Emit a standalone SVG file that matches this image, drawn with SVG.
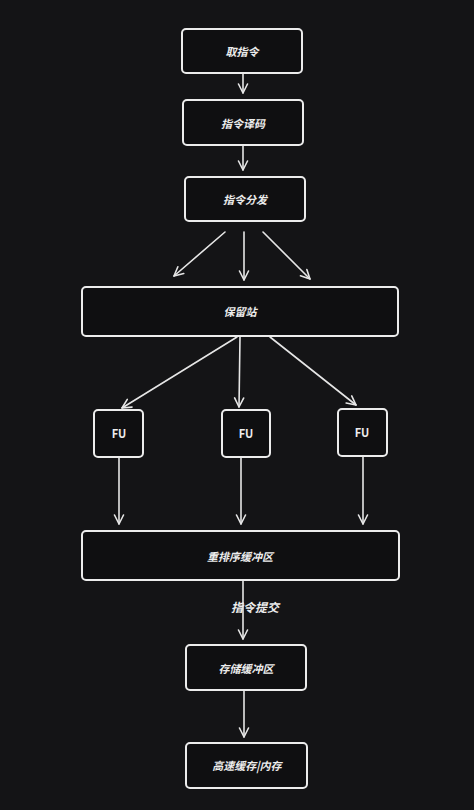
<svg xmlns="http://www.w3.org/2000/svg" width="474" height="810" viewBox="0 0 474 810">
<defs>
<marker id="ah" viewBox="0 0 12 12" refX="11" refY="6" markerWidth="12" markerHeight="12" markerUnits="userSpaceOnUse" orient="auto">
<path d="M2,1.5 L11,6 L2,10.5" fill="none" stroke="#e6e6e6" stroke-width="1.6" stroke-linecap="round" stroke-linejoin="round"/>
</marker>
<style>
.bx{fill:#0f0f11;stroke:#ececec;stroke-width:2;}
.t{fill:#ececec;font-family:"Noto Sans CJK SC","Liberation Sans",sans-serif;font-size:11px;font-style:italic;font-weight:bold;text-anchor:middle;dominant-baseline:central;}
.c{fill:none;stroke:#e6e6e6;stroke-width:1.6;stroke-linecap:round;marker-end:url(#ah);}
</style>
</defs>
<rect width="474" height="810" fill="#141416"/>
<g id="connectors">
<line class="c" x1="243" y1="74" x2="243" y2="93"/>
<line class="c" x1="243" y1="146" x2="243" y2="170"/>
<line class="c" x1="225" y1="232" x2="174" y2="276"/>
<line class="c" x1="244" y1="232" x2="244" y2="280"/>
<line class="c" x1="263" y1="232" x2="310" y2="279"/>
<line class="c" x1="237" y1="337" x2="122" y2="408"/>
<line class="c" x1="240" y1="337" x2="239" y2="407"/>
<line class="c" x1="270" y1="337" x2="356" y2="405"/>
<line class="c" x1="119" y1="458" x2="119" y2="524"/>
<line class="c" x1="241" y1="458" x2="241" y2="524"/>
<line class="c" x1="363" y1="457" x2="363" y2="524"/>
<line class="c" x1="243" y1="581" x2="243" y2="639"/>
<line class="c" x1="244" y1="691" x2="244" y2="737"/>
<text class="t" x="255" y="606" style="font-size:12px">指令提交</text>
</g>
<g id="n1"><rect class="bx" x="182" y="29" width="120" height="44" rx="4"/><text class="t" x="242" y="51">取指令</text></g>
<g id="n2"><rect class="bx" x="183" y="100" width="120" height="45" rx="4"/><text class="t" x="243" y="123">指令译码</text></g>
<g id="n3"><rect class="bx" x="185" y="177" width="120" height="44" rx="4"/><text class="t" x="245" y="199">指令分发</text></g>
<g id="n4"><rect class="bx" x="82" y="287" width="316" height="49" rx="4"/><text class="t" x="240" y="311">保留站</text></g>
<g id="fu1"><rect class="bx" x="94" y="410" width="49" height="47" rx="4"/><text class="t" x="119" y="433" style="font-style:normal">FU</text></g>
<g id="fu2"><rect class="bx" x="222" y="410" width="48" height="47" rx="4"/><text class="t" x="246" y="433" style="font-style:normal">FU</text></g>
<g id="fu3"><rect class="bx" x="338" y="409" width="49" height="47" rx="4"/><text class="t" x="362" y="432" style="font-style:normal">FU</text></g>
<g id="n5"><rect class="bx" x="82" y="531" width="317" height="49" rx="4"/><text class="t" x="240" y="556">重排序缓冲区</text></g>
<g id="n6"><rect class="bx" x="186" y="645" width="120" height="45" rx="4"/><text class="t" x="246" y="668">存储缓冲区</text></g>
<g id="n7"><rect class="bx" x="186" y="743" width="121" height="45" rx="4"/><text class="t" x="247" y="765">高速缓存|内存</text></g>
</svg>
